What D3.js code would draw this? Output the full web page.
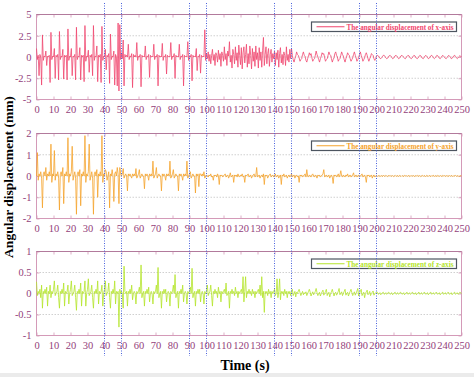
<!DOCTYPE html>
<html>
<head>
<meta charset="utf-8">
<script src="https://cdn.jsdelivr.net/npm/d3@7"></script>
<style>
  body { margin: 0; background: #fff; }
  svg text { font-family: "Liberation Serif", "Times New Roman", serif; }
</style>
</head>
<body>
<div id="chart"></div>
<script>
// samples every 0.5 s, 0..250 s (20 samples per row = 10 s)
var sampleStep = 0.5;
var timeTicks = d3.range(0, 251, 10);
var markerTimes = [40, 50, 90, 100, 140, 150, 190, 200];

var xAxisVals = [
  1.0,-0.3,0.2,-2.2,0.3,0.0,-3.3,2.6,-0.4,0.1,0.0,0.7,-1.0,0.1,0.0,0.2,-3.0,2.9,-0.3,0.1,
  0.0,1.0,-2.5,0.2,0.0,0.3,-2.7,3.0,-0.3,0.1,0.0,0.9,-2.6,0.2,0.0,0.2,-2.7,3.3,-0.4,0.1,
  0.0,1.0,-2.2,0.1,0.0,0.3,-2.7,3.5,-0.3,0.1,0.0,1.1,-2.7,0.2,0.0,0.2,-2.9,3.7,-0.5,0.1,
  0.0,0.8,-1.8,0.2,0.0,0.3,-2.2,3.7,-0.4,0.1,0.0,1.3,-2.9,0.2,0.0,0.3,-3.0,3.6,-0.4,0.1,
  0.0,0.9,-1.5,0.2,0.0,0.4,-3.1,2.7,-0.3,0.1,0.0,0.7,-3.3,0.3,0.0,-3.4,4.0,-4.0,3.8,-0.3,
  0.5,-0.2,2.0,-3.4,0.3,0.0,0.2,0.0,1.5,-0.3,0.1,0.0,0.4,-3.6,0.3,0.0,0.2,0.0,1.7,-0.4,
  0.1,0.0,0.3,-3.5,0.2,0.0,0.1,0.0,1.3,-0.3,0.1,0.0,0.3,-2.4,0.2,0.0,0.1,0.0,1.5,-0.3,
  0.1,0.0,0.3,-3.4,0.2,0.0,0.1,0.0,1.6,-0.4,0.1,0.0,0.3,-2.0,0.2,0.0,0.1,0.0,1.7,-0.3,
  0.1,0.0,0.4,-2.5,0.2,0.0,0.1,0.0,1.5,-0.3,0.1,0.0,0.3,-3.4,0.2,0.0,0.1,0.0,1.8,-0.4,
  0.1,0.0,0.3,-2.8,0.2,0.0,0.1,0.0,1.0,-1.6,0.1,0.0,0.3,-1.9,0.2,0.0,0.1,0.0,3.2,-0.4,
  0.4,-0.2,0.6,-0.5,0.3,-0.8,0.2,0.9,-0.4,0.3,-1.0,0.5,0.2,-0.6,0.8,-0.3,0.4,-1.1,0.6,0.2,
  -0.5,1.2,-0.3,0.4,-1.0,0.7,0.1,1.8,-0.6,0.2,-1.3,0.9,0.3,-0.8,1.2,-0.4,0.5,-1.2,1.4,0.2,
  -0.9,1.1,-1.4,0.5,1.2,-0.7,0.3,1.5,-1.2,0.4,-0.8,1.3,0.2,-1.4,1.0,-0.5,0.6,-1.1,1.3,-0.3,
  0.5,-1.3,1.1,-0.4,0.6,-1.2,0.8,2.3,-1.0,0.3,1.2,-0.8,0.4,1.0,-1.1,0.3,0.9,-0.6,0.4,-0.2,
  0.7,-1.0,0.5,-0.3,0.8,-1.2,0.4,1.1,-0.7,0.3,-0.9,0.6,0.2,-1.0,1.2,-0.4,0.3,-0.6,0.9,-0.2,
  1.0,0.2,-0.3,-0.6,-0.2,0.1,0.6,0.3,0.2,-0.1,-0.5,-0.3,-0.2,0.3,0.6,0.2,0.1,-0.4,-0.6,-0.2,
  0.1,0.5,0.2,0.4,-0.1,-0.5,-0.3,-0.2,0.2,0.7,0.3,0.0,-0.3,-0.6,-0.2,0.1,0.5,0.3,0.4,-0.1,
  -0.5,-0.3,-0.2,0.2,0.6,0.3,0.2,-0.2,-0.6,-0.3,-0.1,0.4,0.6,0.2,0.0,-0.5,-0.3,-0.2,0.2,0.6,
  0.3,0.1,-0.3,-0.6,-0.2,0.1,0.5,0.3,0.2,-0.2,-0.5,-0.3,-0.1,0.3,0.6,0.2,-0.1,-0.5,-0.3,-0.1,
  0.3,0.6,0.2,-0.1,-0.5,-0.3,-0.1,0.3,0.5,0.2,-0.2,-0.5,-0.2,0.0,0.4,0.3,0.2,-0.2,-0.4,-0.2,
  0.1,0.2,0.15,0.0,-0.15,-0.2,-0.1,0.05,0.2,0.2,0.05,-0.1,-0.2,-0.15,0.0,0.15,0.2,0.1,-0.05,-0.2,
  -0.15,0.0,0.15,0.2,0.1,-0.05,-0.2,-0.15,0.0,0.15,0.2,0.1,-0.05,-0.15,-0.2,-0.05,0.1,0.2,0.15,0.0,
  -0.15,-0.2,-0.1,0.05,0.2,0.15,0.0,-0.15,-0.2,-0.1,0.05,0.2,0.15,0.0,-0.15,-0.2,-0.05,0.1,0.2,0.1,
  -0.05,-0.2,-0.15,0.0,0.15,0.2,0.05,-0.1,-0.2,-0.1,0.05,0.2,0.15,0.0,-0.15,-0.2,-0.05,0.1,0.2,0.1,
  -0.05,-0.15,-0.2,-0.05,0.1,0.2,0.1,-0.05,-0.2,-0.15,0.0,0.15,0.2,0.05,-0.1,-0.2,-0.1,0.05,0.15,0.1,
  0.0
];

var yAxisVals = [
  0.0,1.1,-0.2,0.1,0.0,0.2,-0.1,-1.5,0.1,0.2,0.0,0.4,-0.2,0.1,0.0,0.2,0.0,1.5,-0.3,0.1,
  0.0,1.2,-0.2,0.1,0.0,0.2,-0.1,-1.6,0.1,0.2,0.0,0.4,-1.3,0.1,0.0,0.2,0.0,1.8,-0.3,0.1,
  0.0,0.2,1.4,-0.2,0.0,0.2,-0.1,-1.8,0.1,0.2,0.0,0.3,-1.4,0.1,0.0,0.2,0.0,1.9,-0.3,0.1,
  0.0,0.2,1.5,-0.2,0.0,0.2,-0.1,-1.8,0.1,0.2,0.0,0.3,-1.0,0.1,0.0,0.2,0.0,1.9,-0.3,0.1,
  0.0,0.3,0.2,-0.2,0.0,0.2,-1.5,0.1,0.0,0.3,0.0,-1.2,0.1,0.2,0.0,0.4,0.1,-1.3,0.4,0.1,
  0.0,0.1,0.35,-0.1,0.0,0.1,0.0,-0.7,0.1,0.0,0.1,0.0,-0.1,0.1,0.0,0.1,0.0,0.35,-0.1,0.0,
  0.1,0.3,-0.1,0.0,0.1,0.0,0.0,-0.6,0.1,0.0,0.1,0.0,-0.2,0.1,0.0,0.1,0.0,0.7,-0.1,0.0,
  0.1,0.4,-0.1,0.0,0.1,0.0,0.0,-0.7,0.1,0.0,0.1,0.0,-0.2,0.1,0.0,0.1,0.0,0.7,-0.1,0.0,
  0.1,0.3,-0.1,0.0,0.1,0.0,0.0,-0.7,0.1,0.0,0.1,0.0,-0.2,0.1,0.0,0.1,0.0,0.7,-0.1,0.0,
  0.1,0.2,-0.1,0.0,0.1,0.0,0.0,-0.8,0.1,0.0,0.1,-0.5,0.1,0.1,0.0,0.1,0.0,0.2,-0.1,0.0,
  0.05,0.0,-0.05,0.05,0.0,0.1,-0.05,0.0,-0.2,0.05,0.0,0.05,-0.05,0.1,0.0,-0.4,0.05,0.0,0.05,-0.05,
  0.0,0.05,0.1,-0.05,0.0,0.05,-0.1,0.0,0.15,-0.05,0.0,0.05,-0.3,0.05,0.0,0.05,-0.05,0.1,0.0,-0.05,
  0.05,0.0,0.1,-0.05,0.0,-0.3,0.05,0.0,0.05,0.1,-0.05,0.0,0.05,-0.1,0.0,0.05,0.1,-0.05,0.0,0.4,
  -0.05,0.0,0.05,-0.1,0.0,0.05,-0.05,0.1,-0.4,0.05,0.0,0.05,-0.1,0.0,0.05,0.1,-0.05,0.0,0.05,-0.05,
  0.0,0.1,-0.05,0.0,0.05,-0.1,0.0,0.05,-0.4,0.05,0.0,0.1,-0.05,0.0,0.05,-0.1,0.0,0.05,-0.05,0.0,
  0.1,-0.05,0.0,0.05,-0.1,0.0,0.05,-0.05,0.0,-0.3,0.05,0.0,0.05,-0.05,0.0,0.05,0.1,-0.05,0.3,0.0,
  -0.05,0.05,0.0,-0.05,0.05,0.1,0.0,-0.05,0.05,0.0,-0.1,0.05,0.0,0.05,-0.05,0.0,0.05,0.1,0.3,-0.05,
  0.0,0.05,-0.05,0.0,0.05,-0.1,0.0,0.05,-0.05,-0.35,0.05,0.0,0.05,-0.05,0.0,0.1,-0.05,0.05,0.25,0.0,
  -0.05,0.05,0.0,-0.05,0.05,0.0,0.1,-0.05,0.0,0.05,-0.05,0.0,0.05,0.15,-0.05,0.0,0.05,-0.05,0.0,0.05,
  -0.05,0.0,0.05,0.1,-0.05,0.0,0.05,-0.05,-0.3,0.05,0.0,0.05,-0.05,0.0,0.05,-0.1,0.0,0.05,-0.05,0.0,
  0.03,-0.02,0.0,0.03,-0.03,0.0,0.02,-0.03,0.03,0.0,-0.02,0.03,0.0,-0.03,0.02,0.0,0.03,-0.02,0.0,0.02,
  -0.03,0.0,0.03,-0.02,0.0,0.02,-0.03,0.03,0.0,-0.02,0.02,0.0,-0.03,0.03,0.0,0.02,-0.02,0.0,0.03,-0.03,
  0.0,0.02,-0.02,0.03,0.0,-0.03,0.02,0.0,0.03,-0.02,0.0,0.02,-0.03,0.0,0.03,-0.02,0.02,0.0,-0.03,0.03,
  0.0,-0.02,0.03,0.0,-0.03,0.02,0.0,0.03,-0.02,0.0,0.02,-0.03,0.03,0.0,-0.02,0.02,0.0,-0.03,0.03,0.0,
  0.02,-0.02,0.0,0.03,-0.03,0.0,0.02,-0.02,0.03,0.0,-0.03,0.02,0.0,0.03,-0.02,0.0,0.02,-0.03,0.0,0.02,
  0.0
];

var zAxisVals = [
  0.28,-0.05,0.05,0.0,0.1,-0.1,0.2,-0.35,0.05,0.0,0.1,0.0,0.15,-0.3,0.05,0.0,0.2,-0.1,0.05,0.0,
  0.1,0.3,-0.05,0.0,0.05,0.2,-0.1,-0.35,0.05,0.0,0.1,0.0,0.25,-0.3,0.05,0.0,0.05,0.2,-0.25,0.0,
  0.1,0.3,-0.05,0.0,0.05,0.2,-0.1,-0.4,0.05,0.0,0.1,0.0,0.25,-0.3,0.05,0.0,0.05,0.3,-0.3,0.0,
  0.1,0.35,-0.05,0.0,0.05,0.2,-0.1,-0.35,0.05,0.0,0.1,0.0,0.3,-0.25,0.05,0.0,0.05,0.2,-0.3,0.0,
  0.1,0.3,-0.05,0.0,0.05,0.25,-0.1,-0.35,0.05,0.0,0.1,0.0,0.3,-0.25,0.05,0.0,0.05,-0.8,0.1,0.0,
  0.05,0.0,-0.35,0.65,0.05,0.0,0.05,-0.3,0.05,0.0,0.1,0.0,0.2,-0.15,0.0,0.05,0.0,-0.25,0.05,0.0,
  0.05,0.15,0.0,0.68,-0.1,0.0,0.05,-0.3,0.05,0.0,0.1,0.0,0.15,-0.2,0.0,0.05,0.0,-0.25,0.05,0.0,
  0.05,0.2,0.0,0.62,-0.1,0.0,0.05,-0.35,0.05,0.0,0.1,0.0,0.1,-0.2,0.0,0.05,0.0,-0.3,0.05,0.0,
  0.05,0.2,0.0,0.45,-0.1,0.0,0.05,-0.35,0.05,0.0,0.1,0.0,0.2,-0.2,0.0,0.05,0.0,-0.25,0.05,0.0,
  0.05,0.15,0.0,0.6,-0.1,0.0,0.05,-0.3,0.05,0.0,0.1,0.0,0.1,-0.2,0.0,0.05,0.0,-0.25,0.05,0.0,
  0.05,0.2,-0.05,0.0,0.05,0.2,-0.05,-0.3,0.05,0.0,0.1,0.0,0.05,-0.1,0.15,0.0,0.05,-0.2,0.05,0.0,
  0.05,0.1,0.0,0.25,-0.05,0.0,0.05,-0.35,0.05,0.0,0.1,0.0,0.05,-0.05,0.15,0.0,0.05,-0.1,0.05,0.0,
  0.05,0.1,0.0,0.4,-0.2,0.05,0.4,-0.1,0.05,0.0,0.1,0.0,0.05,-0.05,0.1,0.0,0.05,-0.1,0.05,0.0,
  0.05,0.1,0.0,0.2,-0.05,0.4,-0.1,0.05,-0.45,0.05,0.0,0.05,-0.05,0.1,0.0,0.05,-0.1,0.05,0.0,0.05,
  0.1,-0.05,0.0,0.35,-0.1,0.05,0.35,-0.15,0.05,0.0,0.05,-0.05,0.1,0.0,0.05,-0.1,0.05,0.0,0.05,-0.05,
  0.05,0.1,-0.05,0.0,0.05,-0.08,0.03,0.0,0.06,0.1,0.02,-0.05,0.0,0.05,-0.03,0.02,0.0,0.04,-0.05,0.0,
  0.05,0.1,0.03,-0.06,0.0,0.04,-0.03,0.0,0.05,0.12,0.02,-0.05,0.0,0.03,-0.06,0.0,0.04,0.08,-0.04,0.0,
  0.05,0.1,-0.05,0.0,0.03,-0.08,0.0,0.04,0.1,0.02,-0.06,0.0,0.03,-0.04,0.0,0.05,0.12,-0.03,0.0,0.04,
  -0.05,0.0,0.05,0.1,-0.04,0.0,0.03,-0.06,0.0,0.05,0.1,0.02,-0.05,0.0,0.04,-0.04,0.0,0.06,0.12,-0.06,
  0.0,0.05,0.1,-0.05,0.0,0.03,-0.1,0.0,0.04,0.08,-0.03,0.0,0.05,-0.05,0.0,0.03,0.06,-0.04,0.0,0.02,
  0.02,0.03,-0.02,0.0,0.02,-0.03,0.0,0.02,0.03,-0.02,0.0,0.02,-0.02,0.0,0.03,0.02,-0.02,0.0,0.02,-0.03,
  0.0,0.02,0.03,-0.02,0.0,0.02,-0.02,0.0,0.03,0.02,-0.02,0.0,0.02,-0.03,0.0,0.02,0.03,-0.02,0.0,0.02,
  -0.02,0.0,0.03,0.02,-0.02,0.0,0.02,-0.03,0.0,0.02,0.03,-0.02,0.0,0.02,-0.02,0.0,0.03,0.02,-0.02,0.0,
  0.02,-0.03,0.0,0.02,0.03,-0.02,0.0,0.02,-0.02,0.0,0.03,0.02,-0.02,0.0,0.02,-0.03,0.0,0.02,0.03,-0.02,
  0.0,0.02,-0.02,0.0,0.03,0.02,-0.02,0.0,0.02,-0.03,0.0,0.02,0.03,-0.02,0.0,0.02,-0.02,0.0,0.03,0.02,
  0.0
];

var xTicksY = [-5, -2.5, 0, 2.5, 5];
var yTicksY = [-2, -1, 0, 1, 2];
var zTicksY = [-1, -0.5, 0, 0.5, 1];

var legendLabels = [
  "The angular displacement of x-axis",
  "The angular displacement of y-axis",
  "The angular displacement of z-axis"
];

var width = 474, height = 377;
var plotLeft = 36.5, plotRight = 461.5;
var frameColor = "#d49ab8";
var labelColor = "#93407a";

var panels = [
  {vals: xAxisVals, ticks: xTicksY, top: 14.5, bottom: 99.5, color: "#f0466e", label: legendLabels[0]},
  {vals: yAxisVals, ticks: yTicksY, top: 133.5, bottom: 218.5, color: "#f5a32c", label: legendLabels[1]},
  {vals: zAxisVals, ticks: zTicksY, top: 251.5, bottom: 335.5, color: "#b4e42a", label: legendLabels[2]}
];

var svg = d3.select("#chart")
    .append("svg")
    .attr("width", width)
    .attr("height", height);

svg.append("rect").attr("width", width).attr("height", height).attr("fill", "#fff");
svg.append("rect").attr("x", 0).attr("y", 373).attr("width", width).attr("height", 4).attr("fill", "#ebebeb");

var x = d3.scaleLinear().domain([0, 250]).range([plotLeft, plotRight]);

panels.forEach(function(p) {
    var y = d3.scaleLinear()
        .domain([p.ticks[0], p.ticks[p.ticks.length - 1]])
        .range([p.bottom, p.top]);

    var g = svg.append("g");

    // dashed horizontal grid
    g.selectAll(".grid")
        .data(p.ticks.slice(1, -1))
        .enter()
        .append("line")
        .attr("x1", plotLeft)
        .attr("x2", plotRight)
        .attr("y1", function(d) { return y(d); })
        .attr("y2", function(d) { return y(d); })
        .attr("stroke", "#c4c4c4")
        .attr("stroke-width", 0.8)
        .attr("stroke-dasharray", "1.5,1.5");

    var bottomAxis = g.append("g")
        .attr("transform", "translate(0," + p.bottom + ")")
        .call(d3.axisBottom(x).tickValues(timeTicks).tickSize(-3).tickPadding(6).tickFormat(d3.format("d")));
    var topAxis = g.append("g")
        .attr("transform", "translate(0," + p.top + ")")
        .call(d3.axisTop(x).tickValues(timeTicks).tickSize(-3).tickFormat(""));
    var leftAxis = g.append("g")
        .attr("transform", "translate(" + plotLeft + ",0)")
        .call(d3.axisLeft(y).tickValues(p.ticks).tickSize(-3).tickPadding(5).tickFormat(function(d) { return String(d); }));
    var rightAxis = g.append("g")
        .attr("transform", "translate(" + plotRight + ",0)")
        .call(d3.axisRight(y).tickValues(p.ticks).tickSize(-3).tickFormat(""));

    [bottomAxis, topAxis, leftAxis, rightAxis].forEach(function(a) {
        a.select(".domain").remove();
        a.selectAll(".tick line").attr("stroke", frameColor).attr("stroke-width", 0.8);
        a.selectAll("text")
            .attr("fill", labelColor)
            .style("font-size", "10.5px")
            .style("font-family", "'Liberation Serif', serif");
    });

    // frame
    g.append("rect")
        .attr("x", plotLeft)
        .attr("y", p.top)
        .attr("width", plotRight - plotLeft)
        .attr("height", p.bottom - p.top)
        .attr("fill", "none")
        .attr("stroke", frameColor)
        .attr("stroke-width", 1);
    g.append("line")
        .attr("x1", plotLeft).attr("x2", plotRight)
        .attr("y1", p.top).attr("y2", p.top)
        .attr("stroke", "#b27a9c")
        .attr("stroke-width", 1.2);

    // signal
    var line = d3.line()
        .x(function(d, i) { return x(i * sampleStep); })
        .y(function(d) { return y(d); });

    g.append("path")
        .datum(p.vals)
        .attr("fill", "none")
        .attr("stroke", p.color)
        .attr("stroke-width", 0.8)
        .attr("d", line);

    // legend
    var lg = g.append("g").attr("transform", "translate(311.5," + (p.top + 7.5) + ")");
    lg.append("rect")
        .attr("width", 145)
        .attr("height", 9.5)
        .attr("fill", "#fff")
        .attr("stroke", "#4d5560")
        .attr("stroke-width", 1.2);
    lg.append("line")
        .attr("x1", 5).attr("x2", 33)
        .attr("y1", 4.75).attr("y2", 4.75)
        .attr("stroke", p.color)
        .attr("stroke-width", 1);
    lg.append("text")
        .attr("x", 35)
        .attr("y", 7.5)
        .attr("fill", p.color)
        .attr("font-weight", "bold")
        .attr("textLength", 107)
        .attr("lengthAdjust", "spacingAndGlyphs")
        .style("font-size", "7.5px")
        .text(p.label);
});

// blue dotted markers over all panels
svg.selectAll(".marker")
    .data(markerTimes)
    .enter()
    .append("line")
    .attr("x1", function(d) { return x(d); })
    .attr("x2", function(d) { return x(d); })
    .attr("y1", 3)
    .attr("y2", 356)
    .attr("stroke", "#4a62dc")
    .attr("stroke-width", 1)
    .attr("stroke-dasharray", "1,1.5");

// axis titles
svg.append("text")
    .attr("x", 245)
    .attr("y", 370)
    .attr("text-anchor", "middle")
    .attr("font-weight", "bold")
    .style("font-size", "14px")
    .text("Time (s)");

svg.append("text")
    .attr("transform", "translate(13,177) rotate(-90)")
    .attr("text-anchor", "middle")
    .attr("font-weight", "bold")
    .style("font-size", "13.5px")
    .text("Angular displacement (mm)");
</script>
</body>
</html>
